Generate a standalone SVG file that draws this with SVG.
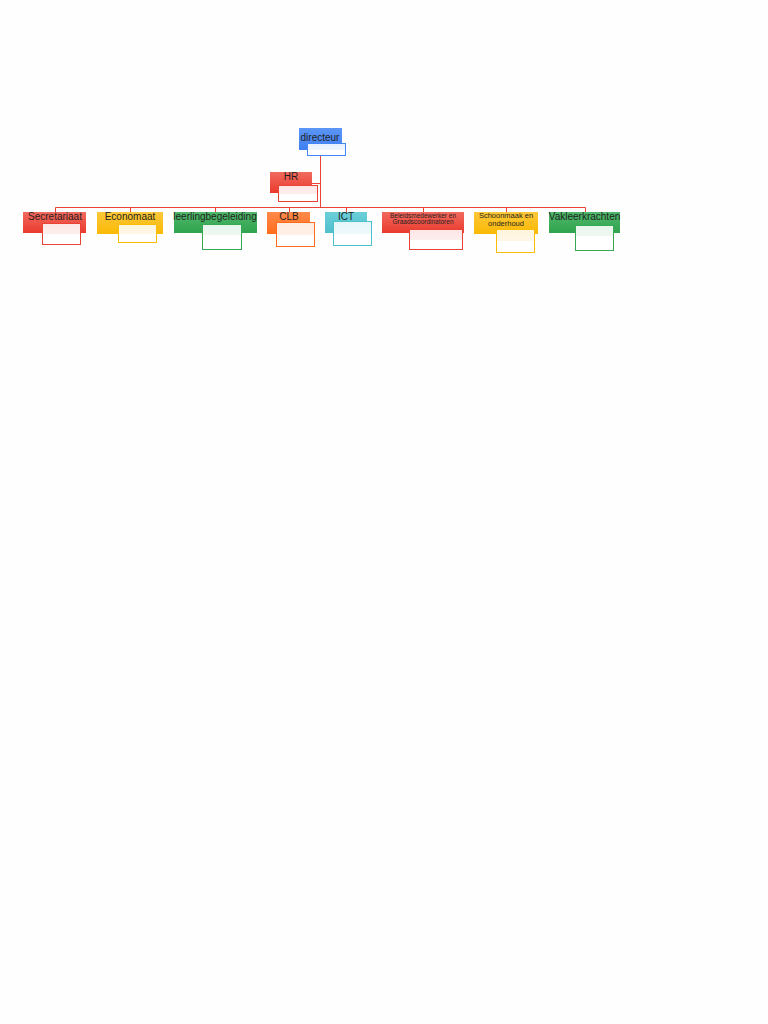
<svg xmlns="http://www.w3.org/2000/svg" width="768" height="1024" viewBox="0 0 768 1024">
<defs>
<linearGradient id="gBlue" x1="0" y1="0" x2="0" y2="1"><stop offset="0" stop-color="#5b95f6"/><stop offset="1" stop-color="#3f7ff2"/></linearGradient>
<linearGradient id="gRed" x1="0" y1="0" x2="0" y2="1"><stop offset="0" stop-color="#f26a5e"/><stop offset="1" stop-color="#ea3a2e"/></linearGradient>
<linearGradient id="gYellow" x1="0" y1="0" x2="0" y2="1"><stop offset="0" stop-color="#fcc83a"/><stop offset="1" stop-color="#fbb905"/></linearGradient>
<linearGradient id="gGreen" x1="0" y1="0" x2="0" y2="1"><stop offset="0" stop-color="#4fb86a"/><stop offset="1" stop-color="#30a34e"/></linearGradient>
<linearGradient id="gOrange" x1="0" y1="0" x2="0" y2="1"><stop offset="0" stop-color="#ff8a4a"/><stop offset="1" stop-color="#ff6d1c"/></linearGradient>
<linearGradient id="gTeal" x1="0" y1="0" x2="0" y2="1"><stop offset="0" stop-color="#6ccfd8"/><stop offset="1" stop-color="#4ec0cc"/></linearGradient>
<linearGradient id="wBlue" x1="0" y1="0" x2="0" y2="1"><stop offset="0" stop-color="#e8f0fe"/><stop offset="0.55" stop-color="#eef4fe"/><stop offset="0.56" stop-color="#fff"/></linearGradient>
<linearGradient id="wRed" x1="0" y1="0" x2="0" y2="1"><stop offset="0" stop-color="#fde6e4"/><stop offset="0.5" stop-color="#fdeeed"/><stop offset="0.51" stop-color="#fff"/></linearGradient>
<linearGradient id="wYellow" x1="0" y1="0" x2="0" y2="1"><stop offset="0" stop-color="#fef5dc"/><stop offset="0.5" stop-color="#fef7e6"/><stop offset="0.51" stop-color="#fff"/></linearGradient>
<linearGradient id="wGreen" x1="0" y1="0" x2="0" y2="1"><stop offset="0" stop-color="#e7f5eb"/><stop offset="0.4" stop-color="#eef8f1"/><stop offset="0.41" stop-color="#fff"/></linearGradient>
<linearGradient id="wOrange" x1="0" y1="0" x2="0" y2="1"><stop offset="0" stop-color="#ffebe0"/><stop offset="0.5" stop-color="#fff0e8"/><stop offset="0.51" stop-color="#fff"/></linearGradient>
<linearGradient id="wTeal" x1="0" y1="0" x2="0" y2="1"><stop offset="0" stop-color="#e6f7f9"/><stop offset="0.5" stop-color="#eef9fa"/><stop offset="0.51" stop-color="#fff"/></linearGradient>
</defs>
<style>
.lbl{font-family:"Liberation Sans",Arial,sans-serif;font-size:10px;fill:#1f1f1f;text-anchor:middle}
.sm{font-size:6.5px}
.md{font-size:7.5px}
.conn{stroke:#ea4335;stroke-width:1;fill:none}
.wb{stroke-width:1}
</style>
<rect width="768" height="1024" fill="#fefefe"/>
<g id="connectors">
<path class="conn" d="M320.5 156V207.5M312 183.5H320.5M55.5 207.5H585.5M55.5 207.5V212M130.5 207.5V212M215.5 207.5V212M289.5 207.5V212M346.5 207.5V212M423.5 207.5V212M506.5 207.5V212M585.5 207.5V212"/>
</g>
<g id="directeur">
<rect x="299" y="128" width="43" height="22" fill="url(#gBlue)"/>
<rect x="307.5" y="143.5" width="38" height="12" fill="url(#wBlue)" stroke="#4285f4" class="wb"/>
<text class="lbl" x="320" y="141">directeur</text>
</g>
<g id="hr">
<rect x="270" y="172" width="42" height="21" fill="url(#gRed)"/>
<rect x="278.5" y="185.5" width="39" height="16" fill="url(#wRed)" stroke="#ea4335" class="wb"/>
<text class="lbl" x="291" y="180">HR</text>
</g>
<g id="secretariaat">
<rect x="23" y="212" width="63" height="21" fill="url(#gRed)"/>
<rect x="42.5" y="223.5" width="38" height="21" fill="url(#wRed)" stroke="#ea4335" class="wb"/>
<text class="lbl" x="55" y="220">Secretariaat</text>
</g>
<g id="economaat">
<rect x="97" y="212" width="66" height="22" fill="url(#gYellow)"/>
<rect x="118.5" y="224.5" width="38" height="18" fill="url(#wYellow)" stroke="#fbbc05" class="wb"/>
<text class="lbl" x="130" y="220">Economaat</text>
</g>
<g id="leerlingbegeleiding">
<rect x="174" y="212" width="83" height="21" fill="url(#gGreen)"/>
<rect x="202.5" y="224.5" width="39" height="25" fill="url(#wGreen)" stroke="#34a853" class="wb"/>
<text class="lbl" x="215" y="220">leerlingbegeleiding</text>
</g>
<g id="clb">
<rect x="267" y="212" width="43" height="22" fill="url(#gOrange)"/>
<rect x="276.5" y="222.5" width="38" height="24" fill="url(#wOrange)" stroke="#ff6d1c" class="wb"/>
<text class="lbl" x="289" y="220">CLB</text>
</g>
<g id="ict">
<rect x="325" y="212" width="42" height="21" fill="url(#gTeal)"/>
<rect x="333.5" y="221.5" width="38" height="24" fill="url(#wTeal)" stroke="#4ec0cc" class="wb"/>
<text class="lbl" x="346" y="220">ICT</text>
</g>
<g id="beleidsmedewerker">
<rect x="382" y="212" width="82" height="21" fill="url(#gRed)"/>
<rect x="409.5" y="229.5" width="53" height="20" fill="url(#wRed)" stroke="#ea4335" class="wb"/>
<text class="lbl sm" x="423" y="217.5">Beleidsmedewerker en</text>
<text class="lbl sm" x="423" y="223.5">Graadscoordinatoren</text>
</g>
<g id="schoonmaak">
<rect x="474" y="212" width="64" height="22" fill="url(#gYellow)"/>
<rect x="496.5" y="229.5" width="38" height="23" fill="url(#wYellow)" stroke="#fbbc05" class="wb"/>
<text class="lbl md" x="506" y="218">Schoonmaak en</text>
<text class="lbl md" x="506" y="226">onderhoud</text>
</g>
<g id="vakleerkrachten">
<rect x="549" y="212" width="71" height="21" fill="url(#gGreen)"/>
<rect x="575.5" y="225.5" width="38" height="25" fill="url(#wGreen)" stroke="#34a853" class="wb"/>
<text class="lbl" x="584.5" y="220">Vakleerkrachten</text>
</g>
</svg>
